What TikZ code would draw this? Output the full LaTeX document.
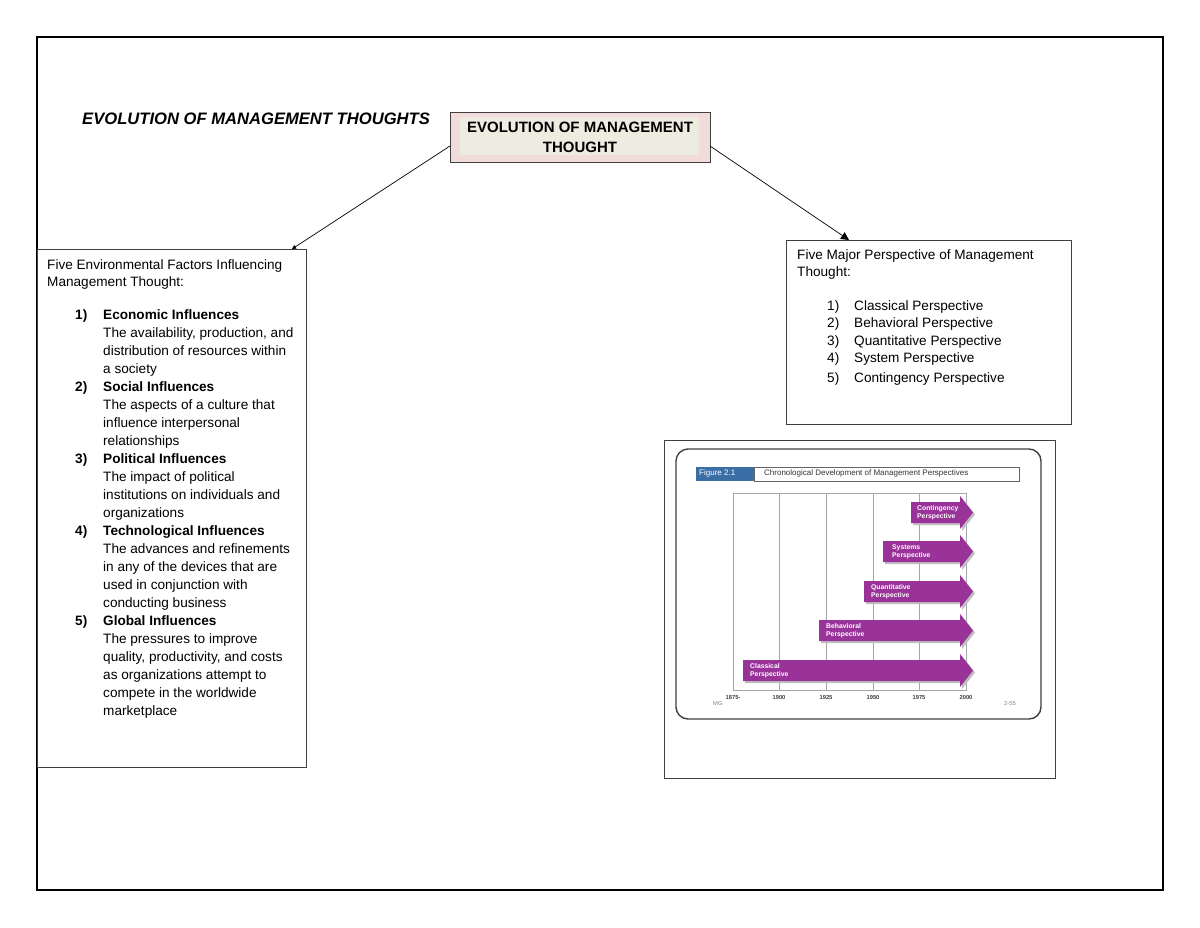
\documentclass[tikz,border=0pt]{standalone}
\usepackage{fontspec}
\setmainfont{Liberation Sans}
\usetikzlibrary{arrows.meta,calc}
\definecolor{pinkb}{HTML}{F2DCDB}
\definecolor{beige}{HTML}{EEECE1}
\definecolor{figblue}{HTML}{3A6EA5}
\definecolor{purp}{HTML}{993399}
\definecolor{boxline}{HTML}{404040}
\begin{document}
\begin{tikzpicture}[x=1pt,y=-1pt,
  plainbox/.style={draw=boxline,line width=1pt,fill=white,inner sep=0pt,outer sep=0pt,anchor=north west},
  txt/.style={anchor=base west,inner sep=0pt,font=\fontsize{13.6}{18}\selectfont},
  btxt/.style={txt,font=\fontsize{13.6}{18}\selectfont\bfseries},
  conn/.style={line width=0.7pt,black},
  perarrow/.style={fill=purp},
  arlabel/.style={anchor=west,inner sep=0pt,text=white,font=\fontsize{6.8}{8}\selectfont\bfseries,align=left},
  axlabel/.style={anchor=center,inner sep=0pt,text=black!75,font=\fontsize{5.8}{6}\selectfont\bfseries},
  gridline/.style={draw=black!35,line width=0.6pt}
]
\useasboundingbox (0,0) rectangle (1200,927);
\fill[white] (0,0) rectangle (1200,927);
% outer frame
\draw[line width=1.5pt] (37,37) rectangle (1163,890);

% heading
\node[anchor=base west,inner sep=0pt,font=\fontsize{16.6}{18}\selectfont\bfseries\itshape] (heading) at (82,124) {EVOLUTION OF MANAGEMENT THOUGHTS};

% title box
\node[plainbox,fill=pinkb,minimum width=260pt,minimum height=50pt] (title) at (450,112) {};
\node[inner sep=0pt,outer sep=0pt,fill=beige,minimum width=239pt,minimum height=38pt] (titlein) at (579.5,136) {};
\node[align=center,inner sep=0pt,font=\fontsize{15}{20}\selectfont\bfseries] (titletext) at (580,137) {EVOLUTION OF MANAGEMENT\\THOUGHT};

% left box
\node[plainbox,minimum width=269pt,minimum height=518pt] (leftbox) at (37,249) {};
\node[txt] (l1) at (47,269) {Five Environmental Factors Influencing};
\node[txt] (l2) at (47,286) {Management Thought:};
\foreach \n/\y/\h in {1/319/Economic Influences,2/391/Social Influences,3/463/Political Influences,4/535/Technological Influences,5/625/Global Influences}{
  \node[btxt] (num\n) at (75,\y) {\n)};
  \node[btxt] (head\n) at (103,\y) {\h};
}
\foreach \i/\y/\t in {
  a/337/{The availability, production, and},
  b/355/{distribution of resources within},
  c/373/{a society},
  d/409/{The aspects of a culture that},
  e/427/{influence interpersonal},
  f/445/{relationships},
  g/481/{The impact of political},
  h/499/{institutions on individuals and},
  i/517/{organizations},
  j/553/{The advances and refinements},
  k/571/{in any of the devices that are},
  l/589/{used in conjunction with},
  m/607/{conducting business},
  n/643/{The pressures to improve},
  o/661/{quality, productivity, and costs},
  p/679/{as organizations attempt to},
  q/697/{compete in the worldwide},
  r/715/{marketplace}}{
  \node[txt] (d\i) at (103,\y) {\t};
}

% right box
\node[plainbox,minimum width=285pt,minimum height=184pt] (rightbox) at (786,240) {};
\node[txt] (r1) at (797,259) {Five Major Perspective of Management};
\node[txt] (r2) at (797,276) {Thought:};
\foreach \n/\y/\t in {1/310/Classical Perspective,2/327.5/Behavioral Perspective,3/345/Quantitative Perspective,4/362.5/System Perspective,5/382/Contingency Perspective}{
  \node[txt] (rn\n) at (827,\y) {\n)};
  \node[txt] (rt\n) at (854,\y) {\t};
}

% connectors
\coordinate (lend) at ($(leftbox.north west)+(255,0)$);
\coordinate (rend) at ($(rightbox.north west)+(63,0)$);
\draw[conn,-{Triangle[length=4pt,width=4pt]}] ($(title.west)+(0,9)$) -- (lend);
\draw[conn,-{Triangle[length=8pt,width=8pt]}] ($(title.east)+(0,9)$) -- (rend);

% figure box
\node[plainbox,draw=boxline,minimum width=391pt,minimum height=338pt] (figbox) at (664,440) {};
\draw[draw=black!75,line width=1.4pt,rounded corners=12pt] (676,449) rectangle (1041,719);
\fill[figblue] (696,467) rectangle (754,481);
\draw[black!60,line width=0.6pt] (754,467) rectangle (1019,481);
\node[anchor=west,inner sep=0pt,text=white,font=\fontsize{8}{9}\selectfont] (figlab) at (699,473.5) {Figure 2.1};
\node[anchor=west,inner sep=0pt,text=black!80,font=\fontsize{8}{9}\selectfont] (figtitle) at (764,473.5) {Chronological Development of Management Perspectives};
% grid
\draw[gridline] (733,493) rectangle (966,690);
\foreach \x in {779,826,873,919}{\draw[gridline] (\x,493) -- (\x,690);}
% arrows
\foreach \x/\t/\b/\la/\lb/\dx in {911/502/523/Contingency/Perspective/6,883/541/562/Systems/Perspective/9,864/581/602/Quantitative/Perspective/7,819/620/641/Behavioral/Perspective/7,743/660/681/Classical/Perspective/7}{
  \fill[black!25] (\x+2,\t+2) -- (962,\t+2) -- (962,\t-4) -- (975,{(\t+\b)/2+2}) -- (962,\b+8) -- (962,\b+2) -- (\x+2,\b+2) -- cycle;
  \fill[perarrow] (\x,\t) -- (960,\t) -- (960,\t-6) -- (973,{(\t+\b)/2}) -- (960,\b+6) -- (960,\b) -- (\x,\b) -- cycle;
  \node[arlabel] at (\x+\dx,{(\t+\b)/2}) {\la\\\lb};
}
% axis labels
\foreach \x/\l in {733/1875-,779/1900,826/1925,873/1950,919/1975,966/2000}{
  \node[axlabel] at (\x,697) {\l};
}
\node[anchor=west,inner sep=0pt,text=black!50,font=\fontsize{5.8}{6}\selectfont] (mg) at (713,703) {MG};
\node[anchor=west,inner sep=0pt,text=black!50,font=\fontsize{5.8}{6}\selectfont] (pg) at (1004,703) {2-55};
\end{tikzpicture}
\end{document}
